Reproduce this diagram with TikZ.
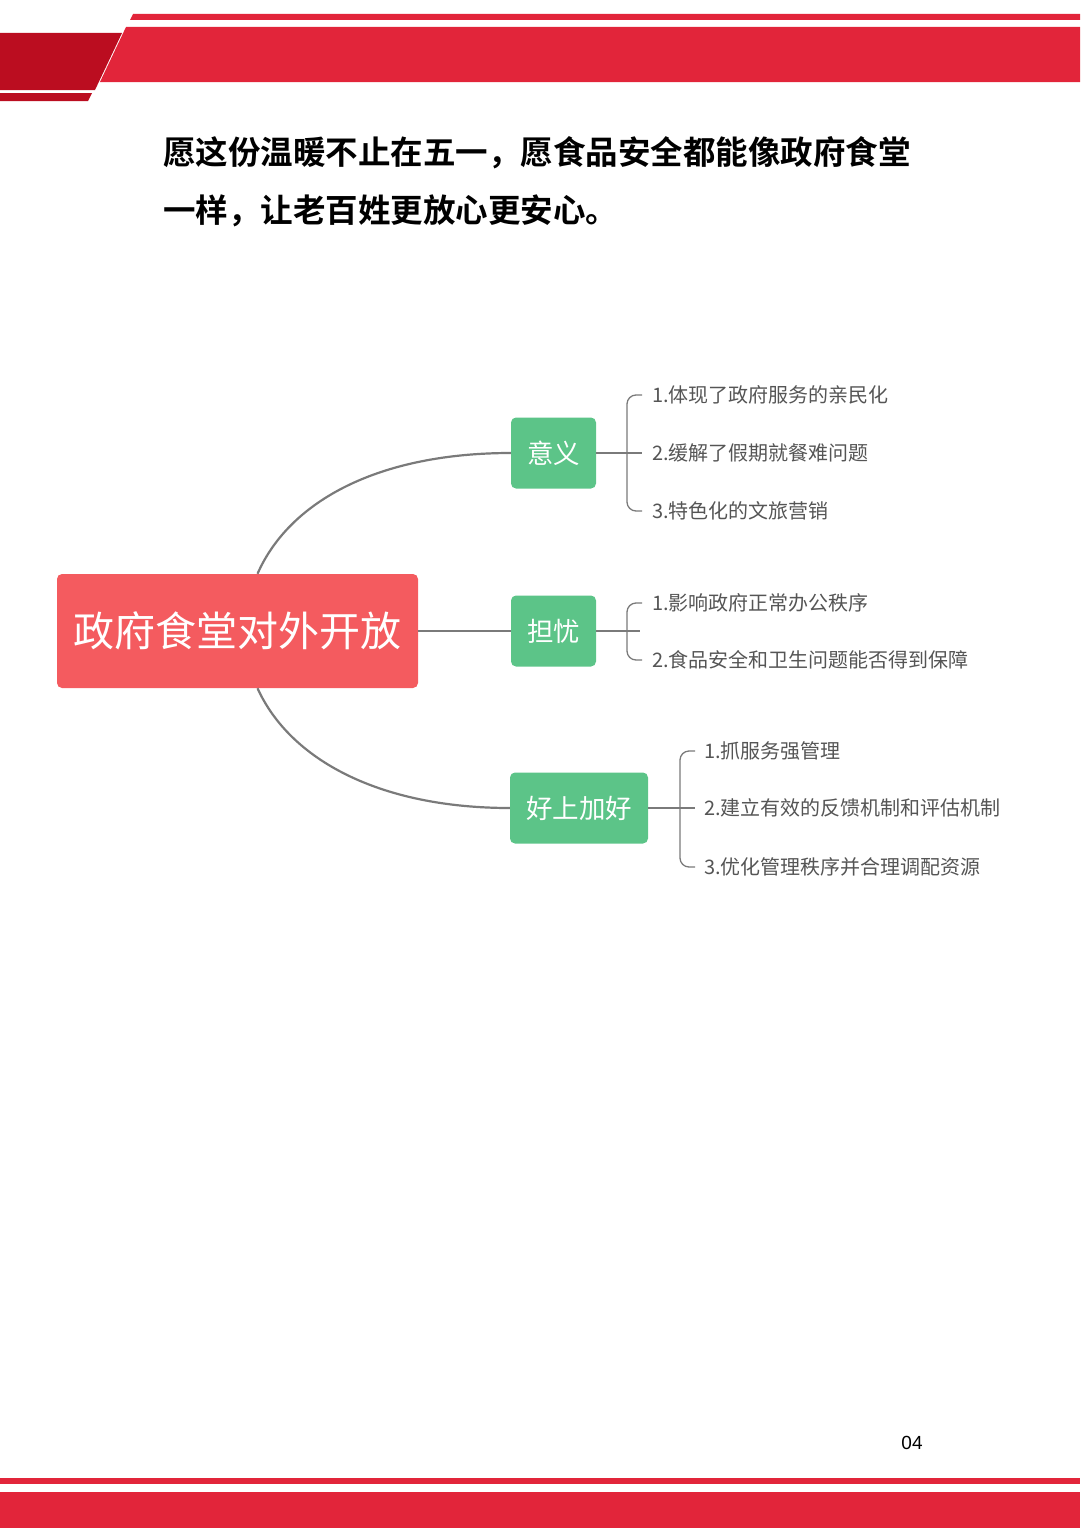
\documentclass[tikz,border=0pt]{standalone}
\usepackage{fontspec}
\setmainfont{Liberation Sans}
\newfontfamily\cjk{Noto Sans CJK SC}
\newfontfamily\cjkbold{Noto Sans CJK SC Bold}
\definecolor{bandred}{HTML}{E2253A}
\definecolor{darkred}{HTML}{BB0D20}
\definecolor{rootred}{HTML}{F45B5F}
\definecolor{leafgreen}{HTML}{5CC488}
\definecolor{linegray}{HTML}{7A7A7A}
\definecolor{textgray}{HTML}{555555}
\begin{document}
\begin{tikzpicture}[x=1pt, y=-1pt]
    \tikzstyle{root}=[fill=rootred, rounded corners=5pt, text=white, minimum width=361pt, minimum height=114pt, font=\cjk\fontsize{41}{46}\selectfont]
    \tikzstyle{topic}=[fill=leafgreen, rounded corners=5pt, text=white, minimum height=71pt, inner xsep=16pt, font=\cjk\fontsize{26.5}{30}\selectfont]
    \tikzstyle{item}=[anchor=west, inner sep=0pt, text=textgray, font=\cjk\fontsize{20}{24}\selectfont]
    \tikzstyle{link}=[draw=linegray, line width=2.2pt]
    \tikzstyle{brace}=[draw=linegray, line width=1.3pt, rounded corners=9pt]
    \useasboundingbox (0,0) rectangle (1080,1528);

    % page frame
    \fill[bandred] (133,14) -- (1080,14) -- (1080,20) -- (130,20) -- cycle;
    \fill[bandred] (126,27) -- (1080,27) -- (1080,82) -- (100,82) -- cycle;
    \fill[darkred] (0,33) -- (122,33) -- (95,90) -- (0,90) -- cycle;
    \fill[darkred] (0,93) -- (92,93) -- (88,101) -- (0,101) -- cycle;
    \fill[bandred] (0,1478) rectangle (1080,1484);
    \fill[bandred] (0,1492) rectangle (1080,1528);

    % heading
    \node[anchor=west, inner sep=0pt, font=\cjkbold\fontsize{32.5}{36}\selectfont] (line1) at (163,153) {愿这份温暖不止在五一，愿食品安全都能像政府食堂};
    \node[anchor=west, inner sep=0pt, font=\cjkbold\fontsize{32.5}{36}\selectfont] (line2) at (163,211) {一样，让老百姓更放心更安心。};

    % mind map
    \node[root] (canteen) at (237.5,631) {政府食堂对外开放};
    \node[topic] (meaning) at (553.5,453) {意义};
    \node[topic] (worry) at (553.5,631) {担忧};
    \node[topic] (better) at (579,808) {好上加好};

    \draw[link] (canteen.north) ++(20,0) coordinate (c1) (c1) .. controls (290,500) and (380,453) .. (meaning.west);
    \draw[link] (canteen.east) -- (worry.west);
    \draw[link] (canteen.south) ++(20,0) coordinate (c3) (c3) .. controls (290,760) and (380,808) .. (better.west);

    % meaning
    \coordinate (bm) at (627,453);
    \draw[link, line width=1.3pt] (meaning.east) -- (bm);
    \draw[brace] (642,395) -- (627,395) -- (627,511) -- (642,511);
    \draw[brace] (bm) -- (642,453);
    \node[item] (m1) at (652,395) {1.体现了政府服务的亲民化};
    \node[item] (m2) at (652,453) {2.缓解了假期就餐难问题};
    \node[item] (m3) at (652,511) {3.特色化的文旅营销};

    % worry
    \coordinate (bw) at (627,631);
    \draw[link, line width=1.3pt] (worry.east) -- (bw);
    \draw[brace] (642,603) -- (627,603) -- (627,660) -- (642,660);
    \draw[brace] (bw) -- (640,631);
    \node[item] (w1) at (652,603) {1.影响政府正常办公秩序};
    \node[item] (w2) at (652,660) {2.食品安全和卫生问题能否得到保障};

    % better
    \coordinate (bb) at (680,808);
    \draw[link, line width=1.3pt] (better.east) -- (bb);
    \draw[brace] (695,751) -- (680,751) -- (680,867) -- (695,867);
    \draw[brace] (bb) -- (695,808);
    \node[item] (b1) at (704,751) {1.抓服务强管理};
    \node[item] (b2) at (704,808) {2.建立有效的反馈机制和评估机制};
    \node[item] (b3) at (704,867) {3.优化管理秩序并合理调配资源};

    \node[font=\fontsize{19}{22}\selectfont] (page) at (912,1443) {04};
\end{tikzpicture}
\end{document}
